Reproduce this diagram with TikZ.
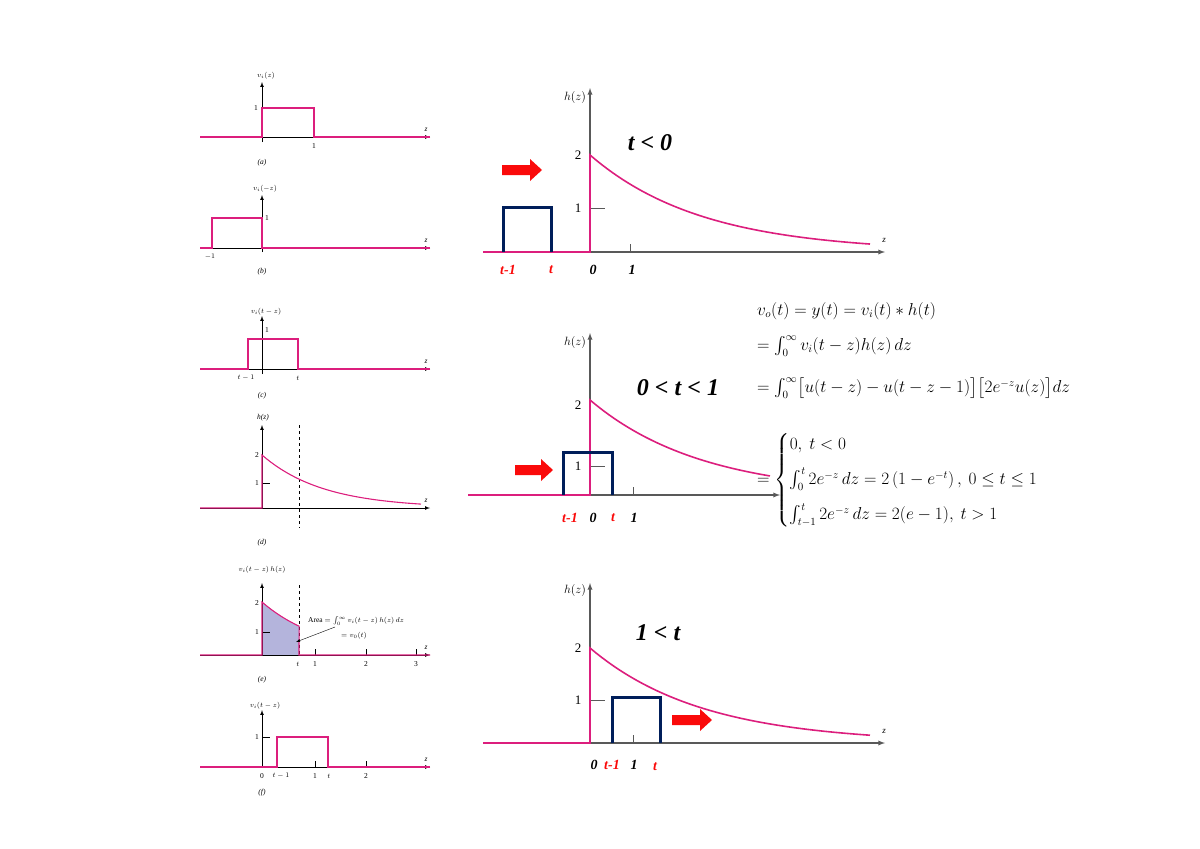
\documentclass[tikz,border=0pt]{standalone}
\usepackage{amsmath}
\usepackage{fontspec}
\setmainfont{Liberation Serif}
\definecolor{pk}{RGB}{220,30,125}
\definecolor{nv}{RGB}{0,30,90}
\definecolor{ar}{RGB}{250,10,10}
\definecolor{sh}{RGB}{180,180,220}
\begin{document}
\begin{tikzpicture}[x=1pt,y=-1pt,
  ax/.style={line width=0.7pt,-latex},
  axb/.style={line width=1.3pt,-latex},
  sig/.style={pk,line width=1.1pt},
  sigb/.style={pk,line width=1.6pt},
  blk/.style={nv,line width=3pt},
  sm/.style={font=\fontsize{7.5}{8}\selectfont\itshape,inner sep=1pt},
  smu/.style={font=\fontsize{7.5}{8}\selectfont,inner sep=1pt},
  lb/.style={font=\fontsize{14}{16}\selectfont\bfseries\itshape,inner sep=1pt},
  lbr/.style={lb,text=ar},
  ti/.style={font=\fontsize{24}{28}\selectfont\bfseries\itshape},
  hz/.style={font=\fontsize{13}{15}\selectfont,inner sep=1pt},
  eq/.style={font=\fontsize{16}{19}\selectfont,anchor=west,inner sep=0pt}]
\useasboundingbox (0,0) rectangle (1200,849);
\newcommand{\redarrow}[3]{\fill[ar] (#1,#3-5) -- (#2-12,#3-5) -- (#2-12,#3-11) -- (#2,#3) -- (#2-12,#3+11) -- (#2-12,#3+5) -- (#1,#3+5) -- cycle;}
% ===== left column =====
% (a)
\draw[ax] (200,137) -- (430,137);
\draw[ax] (262,142) -- (262,82);
\draw[sig] (200,137) -- (262,137) -- (262,108) -- (314,108) -- (314,137) -- (430,137);
\node[sm] (la) at (266,76) {$v_i(z)$};
\node[smu] at (256,108) {1};
\node[smu] at (314,146) {1};
\node[sm] at (426,130) {z};
\node[sm] at (262,163) {(a)};
% (b)
\draw[ax] (200,248) -- (430,248);
\draw[ax] (262,252) -- (262,195);
\draw[sig] (200,248) -- (212,248) -- (212,218) -- (262,218) -- (262,248) -- (430,248);
\node[sm] at (265,189) {$v_i(-z)$};
\node[smu] at (267,218) {1};
\node[smu] at (210,257) {$-1$};
\node[sm] at (426,241) {z};
\node[sm] at (262,272) {(b)};
% (c)
\draw[ax] (200,369) -- (430,369);
\draw[ax] (262,374) -- (262,316);
\draw[sig] (200,369) -- (248,369) -- (248,339) -- (298,339) -- (298,369) -- (430,369);
\node[sm] at (266,312) {$v_i(t-z)$};
\node[smu] at (267,330) {1};
\node[smu] at (246,378) {$t-1$};
\node[smu] at (298,378) {$t$};
\node[sm] at (426,362) {z};
\node[sm] at (262,396) {(c)};
% (d)
\draw[ax] (200,508) -- (430,508);
\draw[ax] (262,508) -- (262,425);
\draw (262,483) -- (270,483);
\draw[dashed] (299,425) -- (299,528);
\draw[sig] (200,508) -- (262,508) -- (262,455) -- plot[domain=0:3,samples=40] ({262+53*\x},{508-53*exp(-\x/1.15)});
\node[sm] at (263,418) {h(z)};
\node[smu] at (257,455) {2};
\node[smu] at (257,483) {1};
\node[sm] at (426,501) {z};
\node[sm] at (262,543) {(d)};
% (e)
\fill[sh] (262,655) -- (262,602) -- plot[domain=0:0.7,samples=20] ({262+53*\x},{655-53*exp(-\x/1.15)}) -- (299,655) -- cycle;
\draw[ax] (200,655) -- (430,655);
\draw[ax] (262,655) -- (262,583);
\draw (262,632) -- (270,632);
\foreach \xx in {315,366,416} \draw (\xx,655) -- (\xx,649);
\draw[dashed] (299,585) -- (299,655);
\draw[sig] (200,655) -- (262,655) -- (262,602) -- plot[domain=0:0.7,samples=20] ({262+53*\x},{655-53*exp(-\x/1.15)}) -- (299,655) -- (430,655);
\node[sm] at (262,570) {$v_i(t-z)\,h(z)$};
\node[smu] at (257,603) {2};
\node[smu] at (257,632) {1};
\node[smu] at (298,664) {$t$};
\node[smu] at (315,664) {1};
\node[smu] at (366,664) {2};
\node[smu] at (416,664) {3};
\node[sm] at (426,648) {z};
\node[smu,anchor=west] (area) at (307,621) {Area $=\int_0^\infty v_i(t-z)\,h(z)\,dz$};
\node[smu,anchor=west] at (340,636) {$=v_0(t)$};
\draw[-latex] (335,627) -- (296,642);
\node[sm] at (262,680) {(e)};
% (f)
\draw[ax] (200,767) -- (430,767);
\draw[ax] (262,767) -- (262,710);
\draw (262,737) -- (270,737);
\foreach \xx in {315,366} \draw (\xx,767) -- (\xx,761);
\draw[sig] (200,767) -- (277,767) -- (277,737) -- (328,737) -- (328,767) -- (430,767);
\node[sm] at (265,706) {$v_i(t-z)$};
\node[smu] at (257,737) {1};
\node[smu] at (262,776) {0};
\node[smu] at (281,776) {$t-1$};
\node[smu] at (315,776) {1};
\node[smu] at (329,776) {$t$};
\node[smu] at (366,776) {2};
\node[sm] at (426,760) {z};
\node[sm] at (262,793) {(f)};
% ===== right panel 1 =====
\draw[axb,gray!70!black] (483,252) -- (885,252);
\draw[axb,gray!70!black] (590,252) -- (590,88);
\draw[gray!70!black,line width=1pt] (590,208) -- (605,208) (630,252) -- (630,244);
\draw[sigb] (483,252) -- (590,252) -- (590,155) -- plot[domain=0:7,samples=50] ({590+40*\x},{252-97*exp(-\x/2.8)});
\draw[blk] (503,252) -- (503,207) -- (551,207) -- (551,252);
\redarrow{502}{542}{170}
\node[hz] at (575,97) {$h(z)$};
\node[hz] at (578,155) {2};
\node[hz] at (578,208) {1};
\node[font=\itshape\small] at (884,240) {z};
\node[lbr] at (508,270) {t-1};
\node[lbr] at (551,270) {t};
\node[lb] at (593,270) {0};
\node[lb] at (632,270) {1};
\node[ti] at (650,143) {t < 0};
% ===== right panel 2 =====
\draw[axb,gray!70!black] (468,495) -- (780,495);
\draw[axb,gray!70!black] (590,495) -- (590,333);
\draw[gray!70!black,line width=1pt] (590,466) -- (605,466) (633,495) -- (633,487);
\draw[sigb] (468,495) -- (590,495) -- (590,400) -- plot[domain=0:4.5,samples=40] ({590+40*\x},{495-95*exp(-\x/2.8)});
\draw[blk] (563,495) -- (563,452) -- (612,452) -- (612,495);
\redarrow{515}{553}{470}
\node[hz] at (575,342) {$h(z)$};
\node[hz] at (578,405) {2};
\node[hz] at (578,466) {1};
\node[lbr] at (570,518) {t-1};
\node[lb] at (593,518) {0};
\node[lbr] at (613,518) {t};
\node[lb] at (634,518) {1};
\node[ti] at (678,388) {0 < t < 1};
% ===== right panel 3 =====
\draw[axb,gray!70!black] (483,743) -- (885,743);
\draw[axb,gray!70!black] (590,743) -- (590,583);
\draw[gray!70!black,line width=1pt] (590,700) -- (605,700) (633,743) -- (633,735);
\draw[sigb] (483,743) -- (590,743) -- (590,648) -- plot[domain=0:7,samples=50] ({590+40*\x},{743-95*exp(-\x/2.8)});
\draw[blk] (612,743) -- (612,697) -- (660,697) -- (660,743);
\redarrow{672}{712}{720}
\node[hz] at (575,590) {$h(z)$};
\node[hz] at (578,648) {2};
\node[hz] at (578,700) {1};
\node[font=\itshape\small] at (884,731) {z};
\node[lb] at (594,765) {0};
\node[lbr] at (612,765) {t-1};
\node[lb] at (634,765) {1};
\node[lbr] at (655,767) {t};
\node[ti] at (658,633) {1 < t};
% ===== equation =====
\node[eq] (e1) at (757,311) {$v_o(t)=y(t)=v_i(t)*h(t)$};
\node[eq] (e2) at (757,346) {$=\int_0^\infty v_i(t-z)h(z)\,dz$};
\node[eq] (e3) at (757,388) {$=\int_0^\infty\bigl[u(t-z)-u(t-z-1)\bigr]\bigl[2e^{-z}u(z)\bigr]dz$};
\node[eq] (e4) at (757,480) {$=\begin{cases}0,\ t<0\\[12pt] \int_0^t 2e^{-z}\,dz=2\left(1-e^{-t}\right),\ 0\le t\le 1\\[12pt] \int_{t-1}^t 2e^{-z}\,dz=2(e-1),\ t>1\end{cases}$};
\end{tikzpicture}
\end{document}
